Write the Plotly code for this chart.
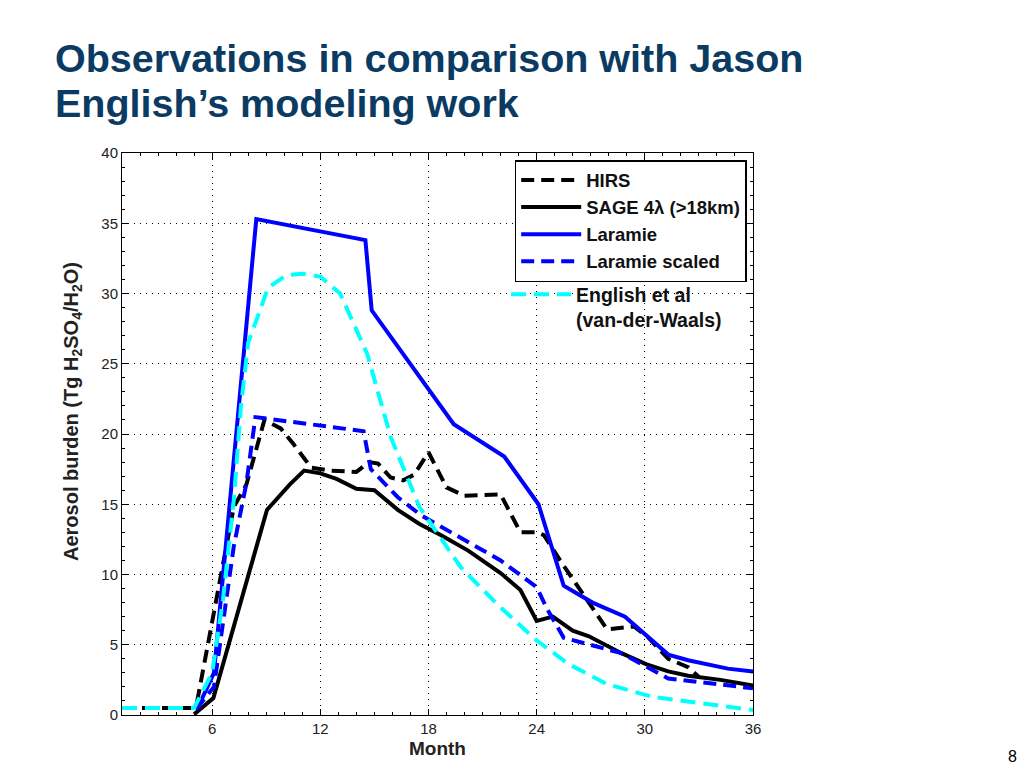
import plotly.graph_objects as go

# ---- data ----
hirs_month = [1, 5.1, 7.2, 7.9, 8.9, 9.8, 10.5, 11.5, 12.5, 14.0, 14.7, 15.2, 15.9, 16.6, 17.2,
              18.0, 19.0, 20.0, 22.0, 23.1, 24.0, 24.4, 25.3, 27.9, 29.4, 30.2, 31.3, 32.4, 33.0]
hirs_val = [0.5, 0.5, 14.8, 16.4, 21.0, 20.4, 19.3, 17.6, 17.4, 17.3, 18.0, 17.9, 16.9, 16.7, 17.1,
            18.7, 16.2, 15.6, 15.7, 13.0, 13.0, 12.8, 11.0, 6.1, 6.3, 5.5, 4.0, 3.4, 2.7]

sage_month = [5.0, 6.07, 9.04, 10.3, 11.1, 12.0, 12.9, 14.0, 15.0, 16.3, 17.5, 18.7, 20.2, 22.0,
              23.1, 24.0, 24.9, 26.0, 26.9, 28.7, 30.1, 31.3, 32.4, 34.2, 36.0]
sage_val = [0.05, 1.2, 14.6, 16.4, 17.4, 17.2, 16.8, 16.1, 16.0, 14.6, 13.6, 12.8, 11.7, 10.1,
            8.9, 6.7, 7.0, 6.0, 5.6, 4.4, 3.6, 3.1, 2.8, 2.5, 2.1]

laramie_month = [5.2, 6.1, 8.45, 14.5, 14.85, 18.1, 19.4, 22.2, 24.1, 25.5, 27.1, 28.9, 30.0,
                 31.3, 32.4, 34.6, 36.0]
laramie_val = [0.5, 3.0, 35.3, 33.8, 28.8, 23.1, 20.7, 18.4, 15.0, 9.2, 8.0, 7.0, 5.8,
               4.3, 3.9, 3.3, 3.1]

lscaled_month = [5.1, 6.1, 7.2, 7.9, 8.4, 14.4, 14.8, 16.3, 17.6, 19.4, 22.0, 24.0, 24.6, 25.5,
                 28.7, 31.3, 36.0]
lscaled_val = [0.4, 2.0, 12.0, 16.5, 21.2, 20.2, 17.5, 15.5, 14.2, 12.9, 11.0, 9.1, 7.5, 5.5,
               4.4, 2.6, 1.9]

english_month = [1, 5.0, 6.0, 6.6, 7.2, 7.6, 8.0, 9.1, 10.1, 11.0, 12.0, 13.1, 14.6, 15.9, 17.5,
                 19.8, 21.8, 24.0, 25.8, 27.9, 30.4, 33.2, 36.0]
english_val = [0.5, 0.5, 3.0, 8.2, 15.3, 22.0, 26.5, 30.4, 31.3, 31.4, 31.2, 30.0, 25.7, 19.8, 14.8,
               10.5, 7.9, 5.3, 3.6, 2.2, 1.3, 0.8, 0.35]

x_ticks = [6, 12, 18, 24, 30, 36]
y_ticks = [0, 5, 10, 15, 20, 25, 30, 35, 40]

title_lines = ["Observations in comparison with Jason", "English’s modeling work"]
y_title = "Aerosol burden (Tg H<sub>2</sub>SO<sub>4</sub>/H<sub>2</sub>O)"
x_title = "Month"
page_number = "8"

FONT = "Liberation Sans"
LW = 4
DASH = "13px,7px"

# plot area in pixels
PL, PR, PT, PB = 122, 753, 153, 715
W, H = 1024, 768


def px_x(x):
    return (x - PL) / (PR - PL)


def px_y(y):
    return 1 - (y - PT) / (PB - PT)


fig = go.Figure()
fig.add_trace(go.Scatter(x=hirs_month, y=hirs_val, mode="lines", name="HIRS",
                         line=dict(color="black", width=LW, dash=DASH), legend="legend"))
fig.add_trace(go.Scatter(x=sage_month, y=sage_val, mode="lines", name="SAGE 4λ (>18km)",
                         line=dict(color="black", width=LW), legend="legend"))
fig.add_trace(go.Scatter(x=laramie_month, y=laramie_val, mode="lines", name="Laramie",
                         line=dict(color="#0000FF", width=LW), legend="legend"))
fig.add_trace(go.Scatter(x=lscaled_month, y=lscaled_val, mode="lines", name="Laramie scaled",
                         line=dict(color="#0000FF", width=LW, dash=DASH), legend="legend"))
fig.add_trace(go.Scatter(x=english_month, y=english_val, mode="lines",
                         name="English et al<br>(van-der-Waals)",
                         line=dict(color="#00FFFF", width=LW, dash="15px,8px"),
                         legend="legend2"))

axis_common = dict(
    showline=True, linecolor="black", linewidth=1, mirror="ticks",
    ticks="inside", ticklen=6, tickcolor="black",
    showgrid=True, gridcolor="black", gridwidth=1, griddash="1px,5px",
    zeroline=False,
    tickfont=dict(family=FONT, size=15, color="#222222"),
    minor=dict(dtick=1, ticks="inside", ticklen=3, tickcolor="black", showgrid=False),
)

fig.update_xaxes(range=[1, 36], tickvals=x_ticks, ticktext=[str(v) for v in x_ticks],
                 title=dict(text=x_title, font=dict(family=FONT, size=19, color="#222222",
                                                    weight="bold"), standoff=5),
                 **axis_common)
fig.update_yaxes(range=[0, 40], tickvals=y_ticks, ticktext=[str(v) for v in y_ticks],
                 **axis_common)

TITLE_FONT = dict(family=FONT, size=39.5, color="#0B3B63", weight="bold")
LEGEND_FONT = dict(family=FONT, size=18.5, color="#111111", weight="bold")

fig.update_layout(
    width=W, height=H,
    margin=dict(l=PL, r=W - PR, t=PT, b=H - PB),
    paper_bgcolor="white", plot_bgcolor="white",
    legend=dict(x=0.99, xanchor="right", y=px_y(160), yanchor="top",
                bgcolor="white", bordercolor="black", borderwidth=1.5,
                font=LEGEND_FONT, itemwidth=60, tracegroupgap=0),
    legend2=dict(x=px_x(506), xanchor="left", y=px_y(275), yanchor="top",
                 bgcolor="rgba(0,0,0,0)", borderwidth=0, valign="top",
                 font=dict(family=FONT, size=19.5, color="#111111", weight="bold"),
                 itemwidth=60),
    showlegend=True,
    annotations=[
        dict(text=title_lines[0], x=px_x(53), y=px_y(34), xanchor="left", yanchor="top",
             xref="paper", yref="paper", showarrow=False, font=TITLE_FONT),
        dict(text=title_lines[1], x=px_x(53), y=px_y(79), xanchor="left", yanchor="top",
             xref="paper", yref="paper", showarrow=False, font=TITLE_FONT),
        dict(text=y_title, textangle=-90, x=px_x(72), y=px_y(412), xanchor="center",
             yanchor="middle", xref="paper", yref="paper", showarrow=False,
             font=dict(family=FONT, size=20, color="#222222", weight="bold")),
        dict(text=page_number, x=px_x(1012), y=px_y(756), xanchor="center", yanchor="middle",
             xref="paper", yref="paper", showarrow=False,
             font=dict(family=FONT, size=16, color="black")),
    ],
)

fig.write_html("out.html")
